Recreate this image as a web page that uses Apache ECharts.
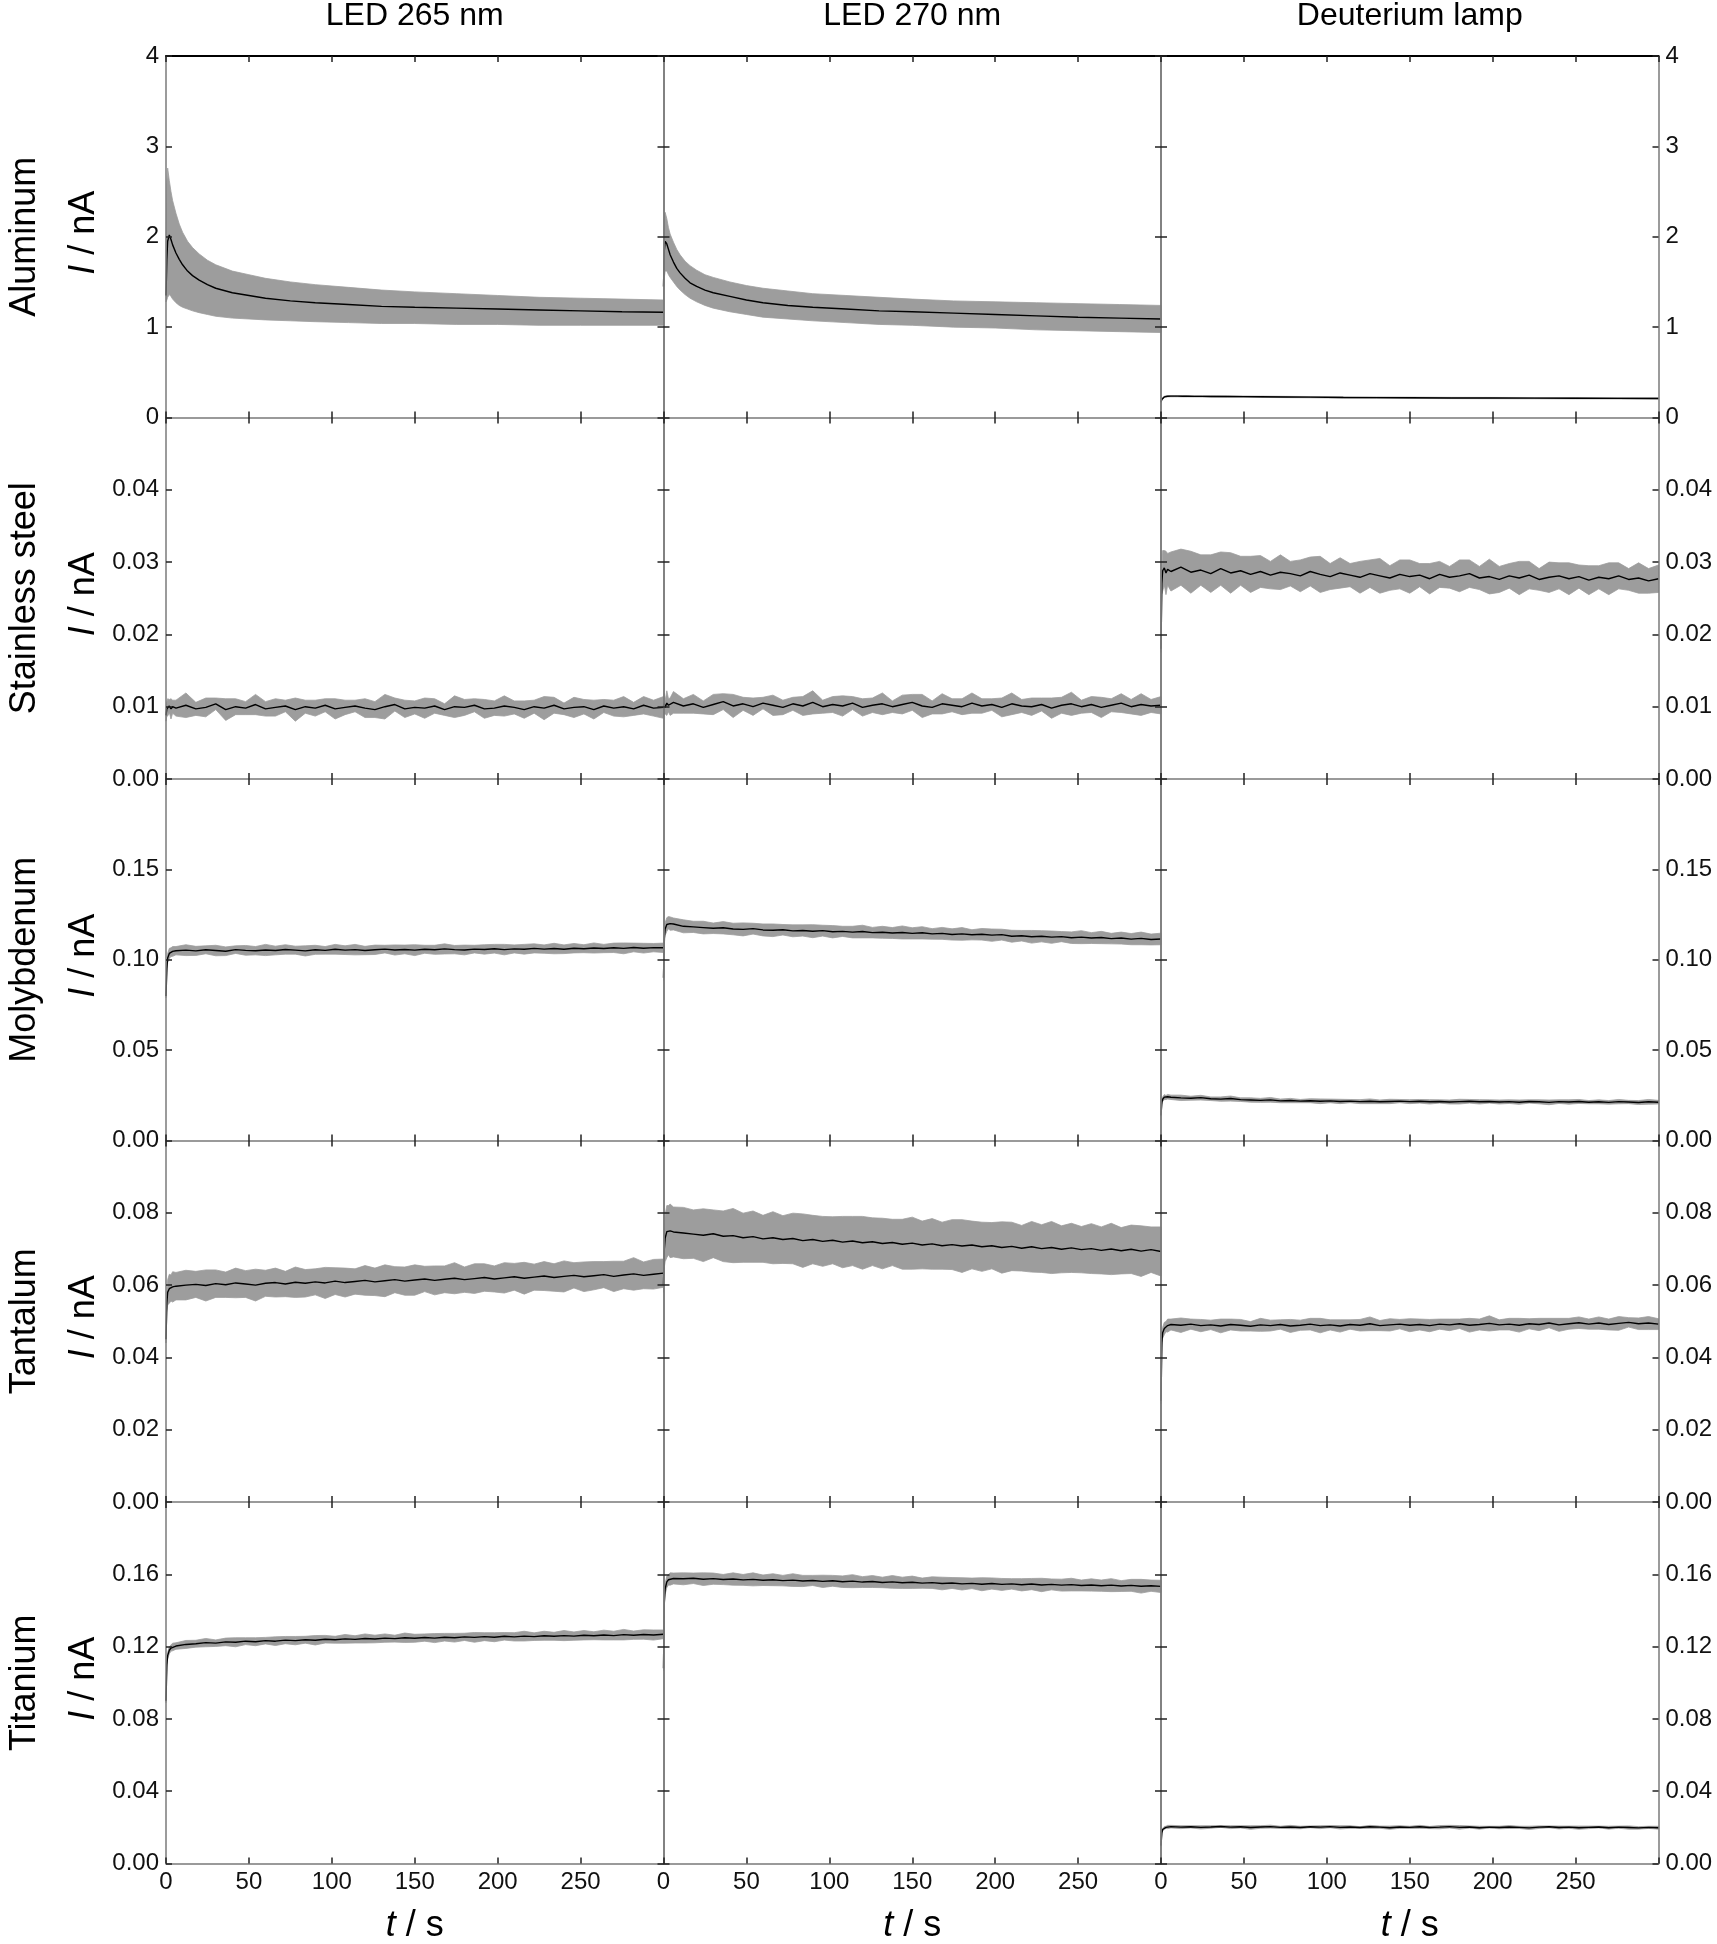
<!DOCTYPE html>
<html>
<head>
<meta charset="utf-8">
<title>Photocurrent transients</title>
<script src="https://cdn.jsdelivr.net/npm/echarts@6/dist/echarts.min.js"></script>
<style>
  html, body { margin: 0; padding: 0; background: #fff; }
  #main { width: 1717px; height: 1944px; }
</style>
</head>
<body>
<div id="main"></div>
<script>
// time grids (s)
var tA = [0, 0.5, 1, 2, 3, 4, 6, 8, 10, 13, 16, 20, 25, 30, 40, 50, 60, 75, 90, 110, 130, 150, 175, 200, 225, 250, 275, 300];
var tN = [0, 0.5, 1, 2, 3, 4, 6, 12, 18, 24, 30, 36, 42, 48, 54, 60, 66, 72, 78, 84, 90, 96, 102, 108, 114, 120,
          126, 132, 138, 144, 150, 156, 162, 168, 174, 180, 186, 192, 198, 204, 210, 216, 222, 228, 234, 240,
          246, 252, 258, 264, 270, 276, 282, 288, 294, 300];

// Aluminum (mean, lower and upper edge of the grey band), nA
var al265Mean = [1.35, 1.75, 1.95, 2.02, 1.97, 1.91, 1.82, 1.75, 1.69, 1.62, 1.57, 1.52, 1.47, 1.43, 1.38, 1.35, 1.32, 1.29, 1.27, 1.25, 1.23, 1.22, 1.21, 1.20, 1.19, 1.18, 1.17, 1.165];
var al265Hi = [1.80, 2.60, 2.76, 2.62, 2.50, 2.40, 2.26, 2.14, 2.05, 1.95, 1.88, 1.81, 1.74, 1.69, 1.62, 1.58, 1.54, 1.50, 1.47, 1.44, 1.41, 1.39, 1.37, 1.35, 1.33, 1.32, 1.31, 1.30];
var al265Lo = [1.28, 1.30, 1.33, 1.36, 1.34, 1.31, 1.27, 1.24, 1.22, 1.20, 1.18, 1.16, 1.14, 1.12, 1.10, 1.09, 1.08, 1.07, 1.06, 1.05, 1.04, 1.04, 1.03, 1.03, 1.02, 1.02, 1.02, 1.02];
var al270Mean = [1.45, 1.85, 1.95, 1.92, 1.86, 1.80, 1.72, 1.65, 1.60, 1.54, 1.49, 1.45, 1.41, 1.38, 1.34, 1.30, 1.27, 1.24, 1.22, 1.20, 1.18, 1.17, 1.155, 1.14, 1.125, 1.11, 1.10, 1.09];
var al270Hi = [1.70, 2.20, 2.27, 2.20, 2.10, 2.03, 1.94, 1.86, 1.80, 1.73, 1.68, 1.63, 1.58, 1.55, 1.50, 1.46, 1.43, 1.40, 1.37, 1.35, 1.33, 1.31, 1.29, 1.28, 1.27, 1.26, 1.25, 1.24];
var al270Lo = [1.25, 1.55, 1.62, 1.62, 1.58, 1.55, 1.50, 1.45, 1.41, 1.36, 1.32, 1.28, 1.24, 1.21, 1.17, 1.14, 1.11, 1.09, 1.07, 1.05, 1.03, 1.02, 1.00, 0.99, 0.97, 0.96, 0.95, 0.94];
var alD2Mean = [0.170, 0.200, 0.215, 0.228, 0.233, 0.235, 0.236, 0.236, 0.236, 0.235, 0.235, 0.234, 0.234, 0.233, 0.232, 0.231, 0.229, 0.227, 0.225, 0.222, 0.220, 0.218, 0.216, 0.215, 0.214, 0.213, 0.212, 0.211];
var alD2Hi = [0.175, 0.207, 0.222, 0.235, 0.240, 0.242, 0.243, 0.243, 0.243, 0.242, 0.242, 0.241, 0.241, 0.240, 0.239, 0.238, 0.236, 0.234, 0.232, 0.229, 0.227, 0.225, 0.223, 0.222, 0.221, 0.220, 0.219, 0.218];
var alD2Lo = [0.165, 0.193, 0.208, 0.221, 0.226, 0.228, 0.229, 0.229, 0.229, 0.228, 0.228, 0.227, 0.227, 0.226, 0.225, 0.224, 0.222, 0.220, 0.218, 0.215, 0.213, 0.211, 0.209, 0.208, 0.207, 0.206, 0.205, 0.204];

// Stainless steel (mean and half band width), nA
var ss265Mean = [0.0088, 0.0097, 0.0099, 0.0101, 0.0097, 0.0100, 0.0098, 0.0102,
  0.0097, 0.0099, 0.0104, 0.0096, 0.0100, 0.0098, 0.0103, 0.0097,
  0.0099, 0.0101, 0.0096, 0.0100, 0.0098, 0.0102, 0.0097, 0.0099,
  0.0101, 0.0098, 0.0096, 0.0100, 0.0103, 0.0097, 0.0099, 0.0098,
  0.0101, 0.0096, 0.0100, 0.0099, 0.0102, 0.0097, 0.0098, 0.0101,
  0.0099, 0.0096, 0.0100, 0.0098, 0.0102, 0.0097, 0.0099, 0.0100,
  0.0096, 0.0101, 0.0098, 0.0100, 0.0097, 0.0102, 0.0098, 0.0099];
var ss265Sd = [0.0008, 0.0010, 0.0012, 0.0009, 0.0014, 0.0009, 0.0011, 0.0017,
  0.0009, 0.0013, 0.0008, 0.0015, 0.0011, 0.0009, 0.0014, 0.0010,
  0.0012, 0.0008, 0.0016, 0.0009, 0.0011, 0.0009, 0.0014, 0.0010,
  0.0008, 0.0013, 0.0011, 0.0017, 0.0009, 0.0012, 0.0009, 0.0014,
  0.0010, 0.0008, 0.0015, 0.0011, 0.0009, 0.0013, 0.0010, 0.0014,
  0.0009, 0.0012, 0.0009, 0.0016, 0.0011, 0.0008, 0.0014, 0.0010,
  0.0013, 0.0009, 0.0011, 0.0014, 0.0009, 0.0012, 0.0011, 0.0015];
var ss270Mean = [0.0101, 0.0104, 0.0099, 0.0105, 0.0102, 0.0100, 0.0106, 0.0101,
  0.0104, 0.0099, 0.0103, 0.0107, 0.0101, 0.0104, 0.0100, 0.0105,
  0.0102, 0.0099, 0.0104, 0.0101, 0.0106, 0.0100, 0.0103, 0.0101,
  0.0105, 0.0099, 0.0102, 0.0104, 0.0100, 0.0103, 0.0106, 0.0101,
  0.0099, 0.0104, 0.0102, 0.0100, 0.0105, 0.0101, 0.0103, 0.0099,
  0.0104, 0.0101, 0.0100, 0.0103, 0.0098, 0.0102, 0.0104, 0.0100,
  0.0103, 0.0099, 0.0102, 0.0105, 0.0100, 0.0103, 0.0101, 0.0102];
var ss270Sd = [0.0011, 0.0014, 0.0009, 0.0017, 0.0009, 0.0012, 0.0015, 0.0010,
  0.0013, 0.0009, 0.0014, 0.0011, 0.0016, 0.0009, 0.0012, 0.0008,
  0.0014, 0.0010, 0.0009, 0.0013, 0.0016, 0.0009, 0.0011, 0.0014,
  0.0009, 0.0012, 0.0010, 0.0015, 0.0008, 0.0013, 0.0011, 0.0016,
  0.0009, 0.0014, 0.0009, 0.0011, 0.0014, 0.0010, 0.0008, 0.0013,
  0.0015, 0.0009, 0.0012, 0.0009, 0.0014, 0.0011, 0.0016, 0.0009,
  0.0011, 0.0014, 0.0009, 0.0013, 0.0010, 0.0015, 0.0009, 0.0012];
var ssD2Mean = [0.0180, 0.0270, 0.0288, 0.0292, 0.0285, 0.0290, 0.0287, 0.0293,
  0.0286, 0.0289, 0.0284, 0.0291, 0.0285, 0.0288, 0.0283, 0.0287,
  0.0282, 0.0286, 0.0284, 0.0281, 0.0287, 0.0283, 0.0280, 0.0285,
  0.0282, 0.0279, 0.0284, 0.0281, 0.0278, 0.0283, 0.0280, 0.0282,
  0.0277, 0.0283, 0.0279, 0.0281, 0.0284, 0.0278, 0.0280, 0.0276,
  0.0281, 0.0278, 0.0282, 0.0276, 0.0279, 0.0281, 0.0277, 0.0280,
  0.0275, 0.0279, 0.0277, 0.0281, 0.0276, 0.0278, 0.0274, 0.0277];
var ssD2Sd = [0.0005, 0.0015, 0.0028, 0.0024, 0.0030, 0.0022, 0.0027, 0.0025,
  0.0029, 0.0021, 0.0026, 0.0023, 0.0028, 0.0020, 0.0025, 0.0022,
  0.0019, 0.0024, 0.0017, 0.0022, 0.0020, 0.0025, 0.0018, 0.0021,
  0.0016, 0.0022, 0.0019, 0.0024, 0.0017, 0.0020, 0.0023, 0.0016,
  0.0021, 0.0018, 0.0015, 0.0022, 0.0019, 0.0016, 0.0024, 0.0018,
  0.0017, 0.0023, 0.0019, 0.0015, 0.0021, 0.0018, 0.0022, 0.0016,
  0.0020, 0.0016, 0.0022, 0.0018, 0.0015, 0.0021, 0.0017, 0.0019];

// Molybdenum
var mo265Mean = [0.0800, 0.0950, 0.1010, 0.1035, 0.1042, 0.1046, 0.1050, 0.1053,
  0.1049, 0.1055, 0.1051, 0.1047, 0.1056, 0.1052, 0.1050, 0.1054,
  0.1051, 0.1057, 0.1053, 0.1049, 0.1055, 0.1052, 0.1058, 0.1053,
  0.1056, 0.1051, 0.1055, 0.1059, 0.1054, 0.1057, 0.1053, 0.1058,
  0.1055, 0.1060, 0.1056, 0.1054, 0.1059, 0.1057, 0.1061, 0.1056,
  0.1060, 0.1058, 0.1063, 0.1059, 0.1062, 0.1058, 0.1064, 0.1061,
  0.1065, 0.1062, 0.1066, 0.1063, 0.1068, 0.1064, 0.1067, 0.1066];
var mo265Sd = [0.0010, 0.0020, 0.0025, 0.0028, 0.0024, 0.0027, 0.0023, 0.0030,
  0.0025, 0.0022, 0.0029, 0.0024, 0.0021, 0.0027, 0.0023, 0.0031,
  0.0024, 0.0026, 0.0022, 0.0028, 0.0025, 0.0021, 0.0027, 0.0024,
  0.0029, 0.0023, 0.0026, 0.0021, 0.0028, 0.0024, 0.0030, 0.0022,
  0.0025, 0.0028, 0.0023, 0.0027, 0.0021, 0.0026, 0.0024, 0.0029,
  0.0022, 0.0027, 0.0025, 0.0023, 0.0029, 0.0024, 0.0026, 0.0022,
  0.0028, 0.0023, 0.0026, 0.0030, 0.0024, 0.0027, 0.0023, 0.0026];
var mo270Mean = [0.0900, 0.1120, 0.1170, 0.1195, 0.1205, 0.1200, 0.1198, 0.1185,
  0.1182, 0.1178, 0.1174, 0.1177, 0.1170, 0.1168, 0.1172, 0.1165,
  0.1163, 0.1166, 0.1160, 0.1162, 0.1158, 0.1161, 0.1155, 0.1157,
  0.1153, 0.1156, 0.1150, 0.1152, 0.1148, 0.1151, 0.1146, 0.1149,
  0.1143, 0.1146, 0.1140, 0.1143, 0.1138, 0.1141, 0.1136, 0.1139,
  0.1130, 0.1133, 0.1127, 0.1130, 0.1125, 0.1128, 0.1122, 0.1125,
  0.1120, 0.1123, 0.1117, 0.1120, 0.1114, 0.1118, 0.1112, 0.1115];
var mo270Sd = [0.0015, 0.0030, 0.0035, 0.0038, 0.0034, 0.0037, 0.0033, 0.0036,
  0.0031, 0.0035, 0.0029, 0.0034, 0.0032, 0.0036, 0.0030, 0.0033,
  0.0035, 0.0029, 0.0033, 0.0031, 0.0036, 0.0030, 0.0034, 0.0028,
  0.0032, 0.0035, 0.0029, 0.0033, 0.0030, 0.0036, 0.0031, 0.0034,
  0.0029, 0.0033, 0.0031, 0.0035, 0.0028, 0.0032, 0.0034, 0.0030,
  0.0033, 0.0029, 0.0035, 0.0031, 0.0034, 0.0028, 0.0032, 0.0036,
  0.0030, 0.0034, 0.0029, 0.0033, 0.0031, 0.0035, 0.0030, 0.0032];
var moD2Mean = [0.0140, 0.0210, 0.0228, 0.0240, 0.0238, 0.0242, 0.0239, 0.0236,
  0.0234, 0.0237, 0.0231, 0.0229, 0.0232, 0.0226, 0.0224, 0.0222,
  0.0225, 0.0219, 0.0221, 0.0218, 0.0220, 0.0217, 0.0219, 0.0216,
  0.0218, 0.0215, 0.0217, 0.0214, 0.0216, 0.0218, 0.0215, 0.0217,
  0.0214, 0.0216, 0.0213, 0.0215, 0.0217, 0.0214, 0.0216, 0.0213,
  0.0215, 0.0212, 0.0216, 0.0214, 0.0211, 0.0215, 0.0213, 0.0216,
  0.0212, 0.0214, 0.0211, 0.0215, 0.0213, 0.0210, 0.0214, 0.0212];
var moD2Sd = [0.0006, 0.0010, 0.0012, 0.0014, 0.0011, 0.0013, 0.0012, 0.0015,
  0.0011, 0.0013, 0.0010, 0.0012, 0.0014, 0.0010, 0.0012, 0.0011,
  0.0013, 0.0010, 0.0012, 0.0009, 0.0011, 0.0013, 0.0010, 0.0012,
  0.0009, 0.0011, 0.0013, 0.0010, 0.0012, 0.0009, 0.0011, 0.0010,
  0.0012, 0.0009, 0.0011, 0.0013, 0.0010, 0.0012, 0.0009, 0.0011,
  0.0010, 0.0012, 0.0009, 0.0011, 0.0013, 0.0010, 0.0012, 0.0011,
  0.0009, 0.0011, 0.0010, 0.0012, 0.0009, 0.0011, 0.0013, 0.0010];

// Tantalum
var ta265Mean = [0.0450, 0.0550, 0.0580, 0.0590, 0.0592, 0.0595, 0.0597, 0.0600,
  0.0602, 0.0599, 0.0604, 0.0601, 0.0606, 0.0603, 0.0600, 0.0605,
  0.0607, 0.0603, 0.0608, 0.0605, 0.0609, 0.0606, 0.0611, 0.0607,
  0.0610, 0.0613, 0.0609, 0.0612, 0.0615, 0.0611, 0.0614, 0.0617,
  0.0613, 0.0616, 0.0619, 0.0615, 0.0618, 0.0621, 0.0617, 0.0620,
  0.0623, 0.0619, 0.0622, 0.0625, 0.0621, 0.0624, 0.0627, 0.0623,
  0.0626, 0.0629, 0.0624, 0.0628, 0.0631, 0.0627, 0.0630, 0.0633];
var ta265Sd = [0.0010, 0.0025, 0.0035, 0.0040, 0.0036, 0.0042, 0.0038, 0.0041,
  0.0036, 0.0043, 0.0038, 0.0035, 0.0041, 0.0037, 0.0044, 0.0036,
  0.0040, 0.0035, 0.0042, 0.0038, 0.0036, 0.0043, 0.0037, 0.0040,
  0.0035, 0.0041, 0.0038, 0.0044, 0.0036, 0.0039, 0.0042, 0.0035,
  0.0040, 0.0037, 0.0043, 0.0035, 0.0041, 0.0038, 0.0036, 0.0042,
  0.0037, 0.0044, 0.0036, 0.0040, 0.0038, 0.0043, 0.0035, 0.0041,
  0.0039, 0.0036, 0.0042, 0.0038, 0.0045, 0.0037, 0.0041, 0.0039];
var ta270Mean = [0.0600, 0.0700, 0.0730, 0.0748, 0.0752, 0.0750, 0.0747, 0.0744,
  0.0741, 0.0738, 0.0742, 0.0735, 0.0737, 0.0731, 0.0734, 0.0728,
  0.0731, 0.0726, 0.0729, 0.0723, 0.0726, 0.0721, 0.0724, 0.0719,
  0.0722, 0.0717, 0.0720, 0.0715, 0.0718, 0.0713, 0.0716, 0.0711,
  0.0714, 0.0709, 0.0712, 0.0708, 0.0711, 0.0706, 0.0709, 0.0704,
  0.0707, 0.0702, 0.0706, 0.0701, 0.0704, 0.0699, 0.0703, 0.0698,
  0.0701, 0.0696, 0.0700, 0.0695, 0.0699, 0.0694, 0.0698, 0.0693];
var ta270Sd = [0.0020, 0.0050, 0.0065, 0.0072, 0.0068, 0.0074, 0.0069, 0.0071,
  0.0067, 0.0073, 0.0066, 0.0070, 0.0075, 0.0068, 0.0071, 0.0065,
  0.0072, 0.0066, 0.0070, 0.0074, 0.0067, 0.0069, 0.0065, 0.0071,
  0.0068, 0.0073, 0.0066, 0.0070, 0.0064, 0.0069, 0.0072, 0.0066,
  0.0070, 0.0065, 0.0069, 0.0073, 0.0066, 0.0068, 0.0064, 0.0071,
  0.0067, 0.0063, 0.0070, 0.0066, 0.0072, 0.0065, 0.0068, 0.0064,
  0.0069, 0.0065, 0.0071, 0.0064, 0.0067, 0.0070, 0.0063, 0.0068];
var taD2Mean = [0.0280, 0.0440, 0.0468, 0.0480, 0.0485, 0.0488, 0.0491, 0.0489,
  0.0492, 0.0488, 0.0490, 0.0487, 0.0491, 0.0489, 0.0486, 0.0490,
  0.0488, 0.0491, 0.0487, 0.0489, 0.0492, 0.0488, 0.0490, 0.0487,
  0.0491, 0.0489, 0.0493, 0.0488, 0.0490, 0.0492, 0.0489, 0.0491,
  0.0488, 0.0492, 0.0490, 0.0493, 0.0489, 0.0491, 0.0494, 0.0490,
  0.0492, 0.0489, 0.0493, 0.0491, 0.0495, 0.0490, 0.0493, 0.0496,
  0.0492, 0.0495, 0.0491, 0.0494, 0.0497, 0.0493, 0.0495, 0.0492];
var taD2Sd = [0.0008, 0.0012, 0.0015, 0.0017, 0.0014, 0.0018, 0.0015, 0.0020,
  0.0014, 0.0017, 0.0013, 0.0019, 0.0015, 0.0016, 0.0013, 0.0018,
  0.0015, 0.0013, 0.0018, 0.0014, 0.0016, 0.0020, 0.0014, 0.0017,
  0.0013, 0.0016, 0.0019, 0.0014, 0.0017, 0.0013, 0.0018, 0.0015,
  0.0017, 0.0014, 0.0016, 0.0013, 0.0019, 0.0015, 0.0021, 0.0014,
  0.0016, 0.0019, 0.0014, 0.0017, 0.0013, 0.0018, 0.0015, 0.0016,
  0.0014, 0.0017, 0.0015, 0.0019, 0.0013, 0.0016, 0.0018, 0.0015];

// Titanium
var ti265Mean = [0.0900, 0.1100, 0.1150, 0.1180, 0.1192, 0.1198, 0.1203, 0.1212,
  0.1216, 0.1222, 0.1219, 0.1226, 0.1224, 0.1230, 0.1227, 0.1233,
  0.1230, 0.1236, 0.1233, 0.1238, 0.1235, 0.1241, 0.1238, 0.1243,
  0.1240, 0.1245, 0.1242, 0.1247, 0.1244, 0.1249, 0.1246, 0.1250,
  0.1247, 0.1252, 0.1249, 0.1254, 0.1251, 0.1255, 0.1252, 0.1257,
  0.1254, 0.1258, 0.1255, 0.1260, 0.1257, 0.1261, 0.1258, 0.1263,
  0.1260, 0.1264, 0.1261, 0.1266, 0.1263, 0.1267, 0.1264, 0.1268];
var ti265Sd = [0.0010, 0.0015, 0.0018, 0.0020, 0.0017, 0.0021, 0.0018, 0.0022,
  0.0019, 0.0023, 0.0018, 0.0021, 0.0025, 0.0019, 0.0022, 0.0018,
  0.0024, 0.0020, 0.0023, 0.0019, 0.0026, 0.0021, 0.0019, 0.0024,
  0.0020, 0.0025, 0.0021, 0.0023, 0.0019, 0.0026, 0.0022, 0.0020,
  0.0025, 0.0021, 0.0024, 0.0020, 0.0027, 0.0022, 0.0025, 0.0021,
  0.0023, 0.0027, 0.0021, 0.0025, 0.0022, 0.0028, 0.0023, 0.0026,
  0.0022, 0.0027, 0.0024, 0.0029, 0.0023, 0.0026, 0.0028, 0.0024];
var ti270Mean = [0.1080, 0.1450, 0.1520, 0.1558, 0.1570, 0.1574, 0.1577, 0.1575,
  0.1578, 0.1573, 0.1576, 0.1571, 0.1574, 0.1569, 0.1572, 0.1567,
  0.1570, 0.1565, 0.1568, 0.1563, 0.1566, 0.1561, 0.1564, 0.1559,
  0.1562, 0.1557, 0.1560, 0.1555, 0.1558, 0.1553, 0.1556, 0.1551,
  0.1554, 0.1549, 0.1552, 0.1547, 0.1550, 0.1545, 0.1549, 0.1544,
  0.1547, 0.1542, 0.1546, 0.1541, 0.1544, 0.1540, 0.1543, 0.1538,
  0.1541, 0.1537, 0.1540, 0.1535, 0.1539, 0.1534, 0.1537, 0.1533];
var ti270Sd = [0.0015, 0.0025, 0.0030, 0.0032, 0.0029, 0.0034, 0.0030, 0.0033,
  0.0029, 0.0035, 0.0031, 0.0028, 0.0034, 0.0030, 0.0036, 0.0029,
  0.0033, 0.0029, 0.0035, 0.0031, 0.0028, 0.0034, 0.0030, 0.0032,
  0.0036, 0.0030, 0.0033, 0.0029, 0.0035, 0.0031, 0.0034, 0.0028,
  0.0032, 0.0035, 0.0030, 0.0034, 0.0029, 0.0036, 0.0031, 0.0033,
  0.0029, 0.0034, 0.0031, 0.0037, 0.0030, 0.0033, 0.0035, 0.0030,
  0.0034, 0.0031, 0.0036, 0.0030, 0.0033, 0.0038, 0.0031, 0.0034];
var tiD2Mean = [0.0100, 0.0170, 0.0188, 0.0197, 0.0200, 0.0202, 0.0204, 0.0201,
  0.0203, 0.0200, 0.0202, 0.0205, 0.0201, 0.0203, 0.0199, 0.0202,
  0.0204, 0.0200, 0.0202, 0.0199, 0.0203, 0.0201, 0.0204, 0.0200,
  0.0202, 0.0199, 0.0203, 0.0201, 0.0198, 0.0202, 0.0200, 0.0203,
  0.0199, 0.0201, 0.0204, 0.0200, 0.0202, 0.0198, 0.0201, 0.0199,
  0.0202, 0.0200, 0.0197, 0.0201, 0.0203, 0.0199, 0.0201, 0.0198,
  0.0200, 0.0202, 0.0198, 0.0201, 0.0199, 0.0197, 0.0200, 0.0198];
var tiD2Sd = [0.0004, 0.0006, 0.0007, 0.0008, 0.0006, 0.0009, 0.0007, 0.0008,
  0.0006, 0.0009, 0.0007, 0.0005, 0.0008, 0.0006, 0.0010, 0.0007,
  0.0008, 0.0006, 0.0009, 0.0007, 0.0005, 0.0008, 0.0006, 0.0009,
  0.0007, 0.0005, 0.0008, 0.0006, 0.0009, 0.0007, 0.0006, 0.0008,
  0.0006, 0.0009, 0.0007, 0.0010, 0.0006, 0.0008, 0.0005, 0.0007,
  0.0008, 0.0006, 0.0009, 0.0007, 0.0005, 0.0008, 0.0006, 0.0009,
  0.0007, 0.0005, 0.0008, 0.0006, 0.0009, 0.0007, 0.0006, 0.0008];

var sources = ['LED 265 nm', 'LED 270 nm', 'Deuterium lamp'];
var metals = ['Aluminum', 'Stainless steel', 'Molybdenum', 'Tantalum', 'Titanium'];
var yMax = [4, 0.05, 0.2, 0.1, 0.2];
var yStep = [1, 0.01, 0.05, 0.02, 0.04];
var yDecimals = [0, 2, 2, 2, 2];

function withSd(t, mean, sd) {
  return {
    t: t, mean: mean,
    lo: mean.map(function (m, i) { return m - sd[i]; }),
    hi: mean.map(function (m, i) { return m + sd[i]; })
  };
}

var panels = [
  [{t: tA, mean: al265Mean, lo: al265Lo, hi: al265Hi},
   {t: tA, mean: al270Mean, lo: al270Lo, hi: al270Hi},
   {t: tA, mean: alD2Mean, lo: alD2Lo, hi: alD2Hi}],
  [withSd(tN, ss265Mean, ss265Sd), withSd(tN, ss270Mean, ss270Sd), withSd(tN, ssD2Mean, ssD2Sd)],
  [withSd(tN, mo265Mean, mo265Sd), withSd(tN, mo270Mean, mo270Sd), withSd(tN, moD2Mean, moD2Sd)],
  [withSd(tN, ta265Mean, ta265Sd), withSd(tN, ta270Mean, ta270Sd), withSd(tN, taD2Mean, taD2Sd)],
  [withSd(tN, ti265Mean, ti265Sd), withSd(tN, ti270Mean, ti270Sd), withSd(tN, tiD2Mean, tiD2Sd)]
];

var FONT = '"Liberation Sans", Arial, sans-serif';
var colLeft = [166, 663.5, 1161], colW = 497.5;
var rowTop = [56, 417.5, 779, 1140.5, 1502], rowH = 361.5;
var AXIS_GREY = '#7a7a7a';
var BAND_GREY = '#9d9d9d';

var grid = [], xAxis = [], yAxis = [], series = [], graphic = [];

// grey band drawn as one polygon: upper edge forward, lower edge back
function bandRenderer(p) {
  return function (params, api) {
    var n = Math.min(p.t.length, p.lo.length, p.hi.length);
    var pts = [], i;
    for (i = 0; i < n; i++) pts.push(api.coord([p.t[i], p.hi[i]]));
    for (i = n - 1; i >= 0; i--) pts.push(api.coord([p.t[i], p.lo[i]]));
    return {
      type: 'polygon',
      shape: {points: pts},
      style: {fill: BAND_GREY, stroke: BAND_GREY, lineWidth: 0.8}
    };
  };
}

panels.forEach(function (row, r) {
  row.forEach(function (p, c) {
    var g = grid.length;
    grid.push({left: colLeft[c], top: rowTop[r], width: colW, height: rowH});

    var tick = {show: true, inside: true, length: 6, lineStyle: {color: '#222', width: 1.5}};
    // bottom time axis
    xAxis.push({
      gridIndex: g, type: 'value', min: 0, max: 300, interval: 50, position: 'bottom', z: 5,
      axisLine: {show: true, onZero: false, lineStyle: {color: AXIS_GREY, width: 1.5}},
      axisTick: tick,
      axisLabel: {
        show: r === 4, margin: 7, fontSize: 24, color: '#111', fontFamily: FONT,
        showMinLabel: true, showMaxLabel: true,
        formatter: function (v) { return v >= 300 ? '' : String(v); }
      },
      splitLine: {show: false}
    });
    // top time axis (ticks only)
    xAxis.push({
      gridIndex: g, type: 'value', min: 0, max: 300, interval: 50, position: 'top', z: 5,
      axisLine: {show: r === 0, onZero: false, lineStyle: {color: '#000', width: 2}},
      axisTick: tick, axisLabel: {show: false}, splitLine: {show: false}
    });
    var yLabel = function (show) {
      return {
        show: show, margin: 7, fontSize: 24, color: '#111', fontFamily: FONT,
        showMinLabel: true, showMaxLabel: true,
        formatter: function (v) {
          if (r > 0 && Math.abs(v - yMax[r]) < 1e-9) return '';
          return v.toFixed(yDecimals[r]);
        }
      };
    };
    yAxis.push({
      gridIndex: g, type: 'value', min: 0, max: yMax[r], interval: yStep[r], position: 'left', z: 5,
      axisLine: {show: true, onZero: false, lineStyle: {color: AXIS_GREY, width: 1.5}},
      axisTick: tick, axisLabel: yLabel(c === 0), splitLine: {show: false}
    });
    yAxis.push({
      gridIndex: g, type: 'value', min: 0, max: yMax[r], interval: yStep[r], position: 'right', z: 5,
      axisLine: {show: true, onZero: false, lineStyle: {color: AXIS_GREY, width: 1.5}},
      axisTick: tick, axisLabel: yLabel(c === 2), splitLine: {show: false}
    });

    var xi = xAxis.length - 2, yi = yAxis.length - 2;
    var n = Math.min(p.t.length, p.mean.length);
    var mean = [];
    for (var i = 0; i < n; i++) mean.push([p.t[i], p.mean[i]]);

    series.push({
      type: 'custom', xAxisIndex: xi, yAxisIndex: yi, silent: true, z: 2,
      renderItem: bandRenderer(p),
      data: [[p.t[0], p.mean[0]]]
    });
    series.push({
      type: 'line', xAxisIndex: xi, yAxisIndex: yi, data: mean,
      showSymbol: false, symbol: 'none', silent: true,
      lineStyle: {color: '#000', width: 1.4}, z: 3
    });
  });
});

// column titles and time-axis titles
sources.forEach(function (s, c) {
  var cx = colLeft[c] + colW / 2;
  graphic.push({
    type: 'text', x: cx, y: 16,
    style: {text: s, fontSize: 32, fontFamily: FONT, fill: '#000', align: 'center', verticalAlign: 'middle'}
  });
  graphic.push({
    type: 'text', x: cx, y: 1926,
    style: {
      text: '{i|t} / s', fontSize: 36, fontFamily: FONT, fill: '#000', align: 'center', verticalAlign: 'middle',
      rich: {i: {fontStyle: 'italic', fontSize: 36, fontFamily: FONT}}
    }
  });
});

// row labels
metals.forEach(function (m, r) {
  var cy = rowTop[r] + rowH / 2;
  graphic.push({
    type: 'text', x: 25, y: cy, rotation: Math.PI / 2,
    style: {text: m, fontSize: 36, fontFamily: FONT, fill: '#000', align: 'center', verticalAlign: 'middle'}
  });
  graphic.push({
    type: 'text', x: 84, y: cy - 4, rotation: Math.PI / 2,
    style: {
      text: '{i|I} / nA', fontSize: 36, fontFamily: FONT, fill: '#000', align: 'center', verticalAlign: 'middle',
      rich: {i: {fontStyle: 'italic', fontSize: 36, fontFamily: FONT}}
    }
  });
});

var chart = echarts.init(document.getElementById('main'));
chart.setOption({
  animation: false,
  backgroundColor: '#fff',
  grid: grid,
  xAxis: xAxis,
  yAxis: yAxis,
  series: series,
  graphic: graphic
});
</script>
</body>
</html>
